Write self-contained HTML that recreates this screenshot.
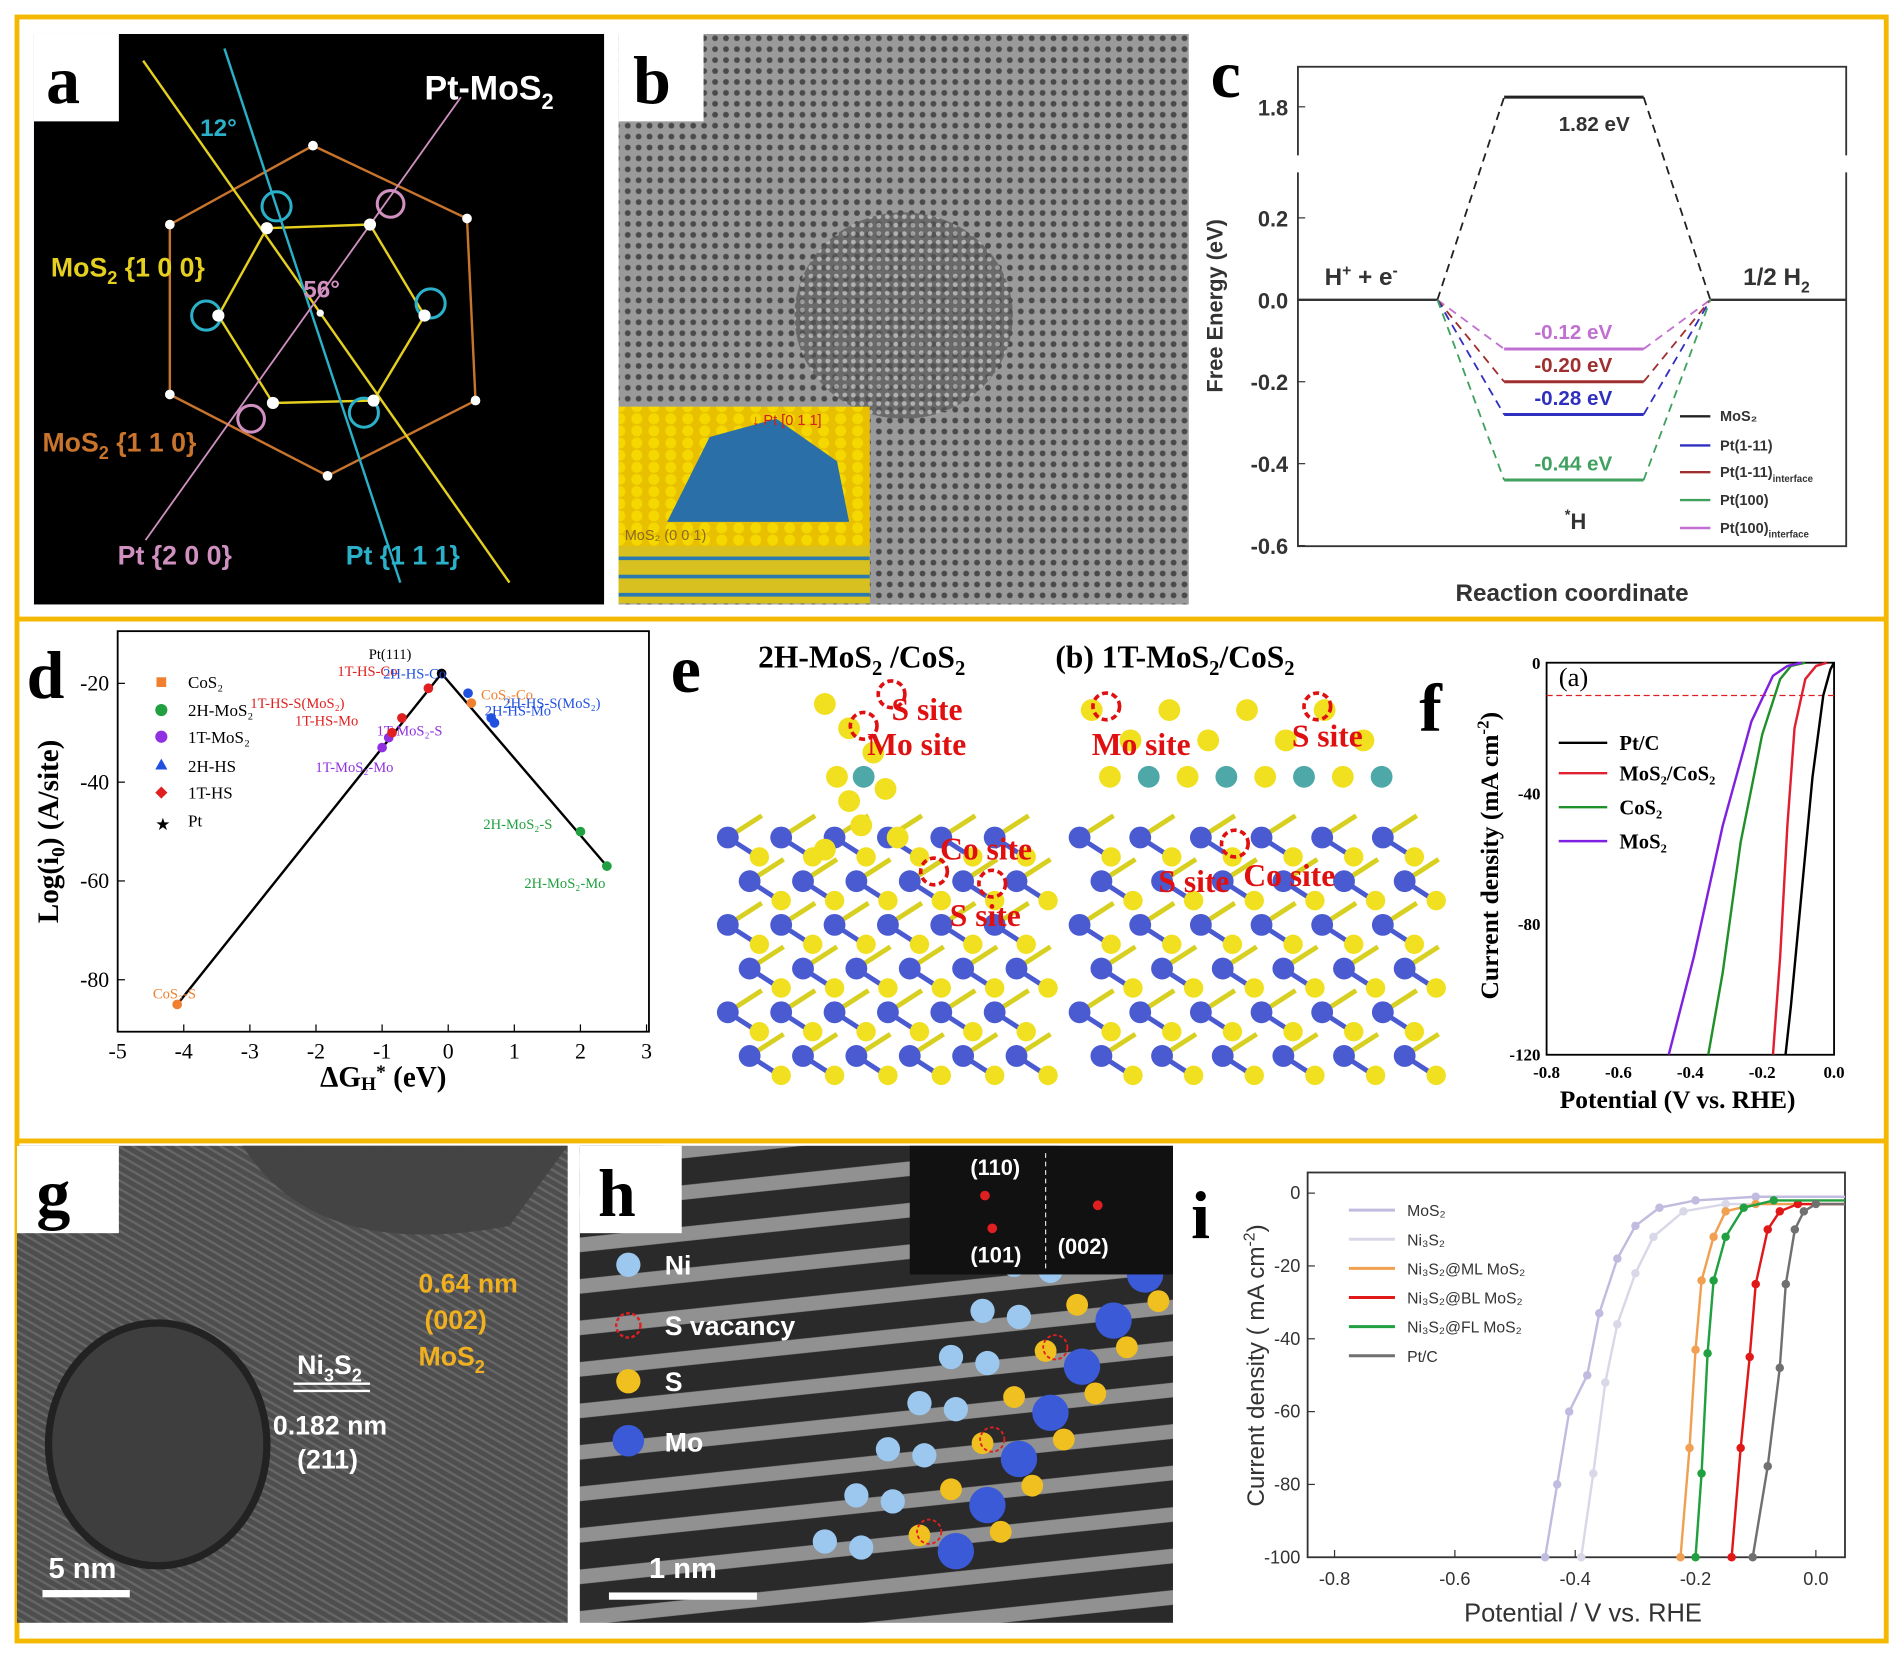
<!DOCTYPE html>
<html><head><meta charset="utf-8"><style>
html,body{margin:0;padding:0;background:#fff;}
svg{display:block;font-family:"Liberation Sans",sans-serif;}
.serif{font-family:"Liberation Serif",serif;}
</style></head><body>
<svg id="fig" width="1902" height="1658" viewBox="0 0 1568 1366" preserveAspectRatio="none">
<defs>
<pattern id="latt" width="9" height="9" patternUnits="userSpaceOnUse"><rect width="9" height="9" fill="#9a9a9a"/><circle cx="4.5" cy="4.5" r="2.4" fill="#4a4a4a"/></pattern>
<pattern id="latt2" width="7" height="7" patternUnits="userSpaceOnUse"><rect width="7" height="7" fill="#555"/><circle cx="3.5" cy="3.5" r="2" fill="#bbb"/></pattern>
<pattern id="stripes" width="40" height="34" patternUnits="userSpaceOnUse" patternTransform="rotate(-6)"><rect width="40" height="34" fill="#2a2a2a"/><rect y="10" width="40" height="12" fill="#bdbdbd" opacity="0.7"/></pattern>
<pattern id="gtex" width="6" height="6" patternUnits="userSpaceOnUse" patternTransform="rotate(30)"><rect width="6" height="6" fill="#4e4e4e"/><rect width="6" height="2" fill="#666"/></pattern>
<pattern id="atoms" width="14" height="10" patternUnits="userSpaceOnUse"><rect width="14" height="10" fill="#e8c000"/><circle cx="7" cy="5" r="4.5" fill="#f5d800"/></pattern>
<clipPath id="hclip"><rect x="478" y="944" width="489" height="393"/></clipPath>
</defs>
<g fill="none" stroke="#f5b800" stroke-width="4">
<rect x="14" y="14" width="1541" height="1338"/>
<line x1="14" y1="510" x2="1555" y2="510"/>
<line x1="14" y1="940" x2="1555" y2="940"/>
</g>

<g>
<rect x="28" y="28" width="470" height="470" fill="#000"/>
<rect x="28" y="28" width="70" height="72" fill="#fff"/>
<text x="38" y="85" font-size="56" font-weight="bold" class="serif">a</text>
<polygon points="258,120 385,180 392,330 270,392 140,325 140,185" fill="none" stroke="#c8742c" stroke-width="2"/>
<polygon points="220,188 305,185 350,260 308,330 225,332 180,260" fill="none" stroke="#e5d020" stroke-width="2"/>
<line x1="118" y1="50" x2="420" y2="480" stroke="#e5d020" stroke-width="2"/>
<line x1="185" y1="40" x2="330" y2="480" stroke="#2ab0c8" stroke-width="2"/>
<line x1="120" y1="445" x2="380" y2="80" stroke="#d090c0" stroke-width="1.5"/>
<g fill="none" stroke="#2ab0c8" stroke-width="2.5"><circle cx="228" cy="170" r="12"/><circle cx="355" cy="250" r="12"/><circle cx="300" cy="340" r="12"/><circle cx="170" cy="260" r="12"/></g>
<g fill="none" stroke="#d090c0" stroke-width="2.5"><circle cx="322" cy="168" r="11"/><circle cx="207" cy="345" r="11"/></g>
<g fill="#fff"><circle cx="258" cy="120" r="4"/><circle cx="385" cy="180" r="4"/><circle cx="392" cy="330" r="4"/><circle cx="270" cy="392" r="4"/><circle cx="140" cy="325" r="4"/><circle cx="140" cy="185" r="4"/><circle cx="220" cy="188" r="5"/><circle cx="305" cy="185" r="5"/><circle cx="350" cy="260" r="5"/><circle cx="308" cy="330" r="5"/><circle cx="225" cy="332" r="5"/><circle cx="180" cy="260" r="5"/><circle cx="264" cy="258" r="3"/></g>
<text x="350" y="82" font-size="28" font-weight="bold" fill="#fff">Pt-MoS<tspan font-size="18" dy="8">2</tspan></text>
<text x="165" y="112" font-size="20" font-weight="bold" fill="#2ab0c8">12°</text>
<text x="250" y="245" font-size="20" font-weight="bold" fill="#d090c0">56°</text>
<text x="42" y="228" font-size="22" font-weight="bold" fill="#e5d020">MoS<tspan font-size="15" dy="6">2</tspan><tspan dy="-6"> {1 0 0}</tspan></text>
<text x="35" y="372" font-size="22" font-weight="bold" fill="#c8742c">MoS<tspan font-size="15" dy="6">2</tspan><tspan dy="-6"> {1 1 0}</tspan></text>
<text x="97" y="465" font-size="22" font-weight="bold" fill="#d090c0">Pt {2 0 0}</text>
<text x="285" y="465" font-size="22" font-weight="bold" fill="#2ab0c8">Pt {1 1 1}</text>
</g>

<g>
<rect x="510" y="28" width="470" height="470" fill="url(#latt)"/>
<ellipse cx="745" cy="260" rx="90" ry="85" fill="url(#latt2)" opacity="0.7"/>
<rect x="510" y="28" width="70" height="72" fill="#fff"/>
<text x="522" y="85" font-size="56" font-weight="bold" class="serif">b</text>
<rect x="510" y="335" width="207" height="162" fill="url(#atoms)"/>
<rect x="510" y="450" width="207" height="47" fill="#d8c020"/>
<g stroke="#2a7ab0" stroke-width="3"><line x1="510" y1="460" x2="717" y2="460"/><line x1="510" y1="475" x2="717" y2="475"/><line x1="510" y1="490" x2="717" y2="490"/></g>
<polygon points="550,430 585,360 640,345 690,380 700,430" fill="#2a6fa8"/>
<text x="620" y="350" font-size="12" fill="#d02020">↓ Pt [0 1 1]</text>
<text x="515" y="445" font-size="12" fill="#8a6a20">MoS₂ (0 0 1)</text>
</g>

<g id="pc">
<rect x="995" y="28" width="70" height="70" fill="#fff"/>
<text x="998" y="80" font-size="56" font-weight="bold" class="serif">c</text>
<rect x="1070" y="55" width="452" height="395" fill="none" stroke="#333" stroke-width="1.5"/>
<rect x="1063" y="128" width="20" height="14" fill="#fff"/><rect x="1512" y="128" width="20" height="14" fill="#fff"/>
<text x="1285" y="108" font-size="17" font-weight="bold" fill="#333">1.82 eV</text>
<text x="1092" y="235" font-size="20" font-weight="bold" fill="#333">H<tspan font-size="13" dy="-8">+</tspan><tspan dy="8"> + e</tspan><tspan font-size="13" dy="-8">-</tspan></text>
<text x="1437" y="235" font-size="20" font-weight="bold" fill="#333">1/2 H<tspan font-size="13" dy="6">2</tspan></text>
<text x="1290" y="436" font-size="18" font-weight="bold" fill="#333"><tspan font-size="12" dy="-8">*</tspan><tspan dy="8">H</tspan></text>
<text x="1296" y="495" font-size="20" font-weight="bold" fill="#333" text-anchor="middle">Reaction coordinate</text>
<text transform="translate(1008,252) rotate(-90)" font-size="18" font-weight="bold" fill="#333" text-anchor="middle">Free Energy (eV)</text>
<g id="pc-ticks"></g><g id="pc-marks"></g>
<g font-size="12" font-weight="bold" fill="#333">
<line x1="1385" y1="343" x2="1410" y2="343" stroke="#222" stroke-width="2"/><text x="1418" y="347">MoS₂</text>
<line x1="1385" y1="367" x2="1410" y2="367" stroke="#3030c0" stroke-width="2"/><text x="1418" y="371">Pt(1-11)</text>
<line x1="1385" y1="389" x2="1410" y2="389" stroke="#a03030" stroke-width="2"/><text x="1418" y="393">Pt(1-11)<tspan font-size="8" dy="4">interface</tspan></text>
<line x1="1385" y1="412" x2="1410" y2="412" stroke="#40a060" stroke-width="2"/><text x="1418" y="416">Pt(100)</text>
<line x1="1385" y1="435" x2="1410" y2="435" stroke="#c070d0" stroke-width="2"/><text x="1418" y="439">Pt(100)<tspan font-size="8" dy="4">interface</tspan></text>
</g>
</g>

<g id="pd">
<text x="22" y="575" font-size="56" font-weight="bold" class="serif">d</text>
<rect x="97" y="520" width="438" height="330" fill="none" stroke="#000" stroke-width="1.5"/>
<g id="pd-ticks" class="serif"></g><g id="pd-marks"></g>
<text x="316" y="895" font-size="24" font-weight="bold" class="serif" text-anchor="middle">ΔG<tspan font-size="16" dy="3">H</tspan><tspan font-size="16" dy="-10">*</tspan><tspan dy="7"> (eV)</tspan></text>
<text transform="translate(48,685) rotate(-90)" font-size="24" font-weight="bold" class="serif" text-anchor="middle">Log(i<tspan font-size="16" dy="5">0</tspan><tspan dy="-5">) (A/site)</tspan></text>
<g class="serif" font-size="14">
<rect x="129" y="558" width="8" height="8" fill="#f08030"/><text x="155" y="567">CoS₂</text>
<circle cx="133" cy="585" r="5" fill="#20a040"/><text x="155" y="590">2H-MoS₂</text>
<circle cx="133" cy="607" r="5" fill="#9030e0"/><text x="155" y="612">1T-MoS₂</text>
<polygon points="133,625 138,634 128,634" fill="#2050e0"/><text x="155" y="636">2H-HS</text>
<polygon points="133,648 138,653 133,658 128,653" fill="#e02020"/><text x="155" y="658">1T-HS</text>
<text x="128" y="684" font-size="14">★</text><text x="155" y="681">Pt</text>
</g>
</g>

<g>
<text x="553" y="570" font-size="56" font-weight="bold" class="serif">e</text>
<text x="625" y="550" font-size="26" font-weight="bold" class="serif">2H-MoS<tspan font-size="17" dy="6">2</tspan><tspan dy="-6"> /CoS</tspan><tspan font-size="17" dy="6">2</tspan></text>
<text x="870" y="550" font-size="26" font-weight="bold" class="serif">(b)  1T-MoS<tspan font-size="17" dy="6">2</tspan><tspan dy="-6">/CoS</tspan><tspan font-size="17" dy="6">2</tspan></text>
<g id="pe-atoms"></g>
<g font-size="26" font-weight="bold" class="serif" fill="#e01010">
<text x="735" y="593">S site</text><text x="715" y="622">Mo site</text>
<text x="775" y="708">Co site</text><text x="783" y="763">S site</text>
<text x="900" y="622">Mo site</text><text x="1065" y="615">S site</text>
<text x="955" y="735">S site</text><text x="1025" y="730">Co site</text>
</g>
</g>

<g id="pf">
<rect x="1275" y="546" width="237" height="323" fill="none" stroke="#000" stroke-width="1.5"/>
<text x="1170" y="602" font-size="56" font-weight="bold" class="serif">f</text>
<text x="1285" y="565" font-size="22" class="serif">(a)</text>
<line x1="1275" y1="573" x2="1512" y2="573" stroke="#e02020" stroke-dasharray="5,3" stroke-width="1"/>
<g id="pf-ticks" class="serif"></g><g id="pf-marks"></g>
<text x="1383" y="913" font-size="21" font-weight="bold" class="serif" text-anchor="middle">Potential (V vs. RHE)</text>
<text transform="translate(1235,705) rotate(-90)" font-size="21" font-weight="bold" class="serif" text-anchor="middle">Current density (mA cm<tspan font-size="14" dy="-8">-2</tspan><tspan dy="8">)</tspan></text>
<g class="serif" font-size="17" font-weight="bold">
<line x1="1285" y1="612" x2="1325" y2="612" stroke="#000" stroke-width="2"/><text x="1335" y="618">Pt/C</text>
<line x1="1285" y1="637" x2="1325" y2="637" stroke="#e02030" stroke-width="2"/><text x="1335" y="643">MoS₂/CoS₂</text>
<line x1="1285" y1="665" x2="1325" y2="665" stroke="#20902a" stroke-width="2"/><text x="1335" y="671">CoS₂</text>
<line x1="1285" y1="693" x2="1325" y2="693" stroke="#8020e0" stroke-width="2"/><text x="1335" y="699">MoS₂</text>
</g>
</g>

<g>
<rect x="14" y="944" width="454" height="393" fill="url(#gtex)"/>
<ellipse cx="130" cy="1190" rx="90" ry="100" fill="#3e3e3e" stroke="#222" stroke-width="6"/>
<path d="M200,944 Q260,1040 420,1010 L468,944 Z" fill="#444"/>
<rect x="14" y="944" width="84" height="72" fill="#fff"/>
<text x="30" y="1002" font-size="56" font-weight="bold" class="serif">g</text>
<text x="245" y="1132" font-size="22" font-weight="bold" fill="#fff">Ni<tspan font-size="15" dy="6">3</tspan><tspan dy="-6">S</tspan><tspan font-size="15" dy="6">2</tspan></text>
<line x1="242" y1="1140" x2="305" y2="1140" stroke="#fff" stroke-width="2"/>
<line x1="242" y1="1146" x2="305" y2="1146" stroke="#fff" stroke-width="2"/>
<text x="225" y="1182" font-size="22" font-weight="bold" fill="#fff">0.182 nm</text>
<text x="245" y="1210" font-size="22" font-weight="bold" fill="#fff">(211)</text>
<text x="345" y="1065" font-size="22" font-weight="bold" fill="#f0b020">0.64 nm</text>
<text x="350" y="1095" font-size="22" font-weight="bold" fill="#f0b020">(002)</text>
<text x="345" y="1125" font-size="22" font-weight="bold" fill="#f0b020">MoS<tspan font-size="15" dy="6">2</tspan></text>
<text x="40" y="1300" font-size="24" font-weight="bold" fill="#fff">5 nm</text>
<rect x="35" y="1310" width="72" height="6" fill="#fff"/>
</g>

<g>
<rect x="478" y="944" width="489" height="393" fill="url(#stripes)"/>
<g id="ph-atoms" clip-path="url(#hclip)"></g>
<rect x="478" y="944" width="84" height="72" fill="#fff"/>
<text x="493" y="1002" font-size="56" font-weight="bold" class="serif">h</text>
<rect x="750" y="944" width="217" height="106" fill="#111"/>
<line x1="862" y1="950" x2="862" y2="1048" stroke="#ddd" stroke-dasharray="4,3"/>
<circle cx="812" cy="985" r="4" fill="#e02020"/><circle cx="818" cy="1012" r="4" fill="#e02020"/><circle cx="905" cy="993" r="4" fill="#e02020"/>
<text x="800" y="968" font-size="18" font-weight="bold" fill="#fff">(110)</text>
<text x="800" y="1040" font-size="18" font-weight="bold" fill="#fff">(101)</text>
<text x="872" y="1033" font-size="18" font-weight="bold" fill="#fff">(002)</text>
<circle cx="518" cy="1042" r="10" fill="#9cc8f0"/><text x="548" y="1050" font-size="22" font-weight="bold" fill="#fff">Ni</text>
<circle cx="518" cy="1092" r="10" fill="none" stroke="#e02020" stroke-dasharray="3,2" stroke-width="2"/><text x="548" y="1100" font-size="22" font-weight="bold" fill="#fff">S vacancy</text>
<circle cx="518" cy="1138" r="10" fill="#f0c020"/><text x="548" y="1146" font-size="22" font-weight="bold" fill="#fff">S</text>
<circle cx="518" cy="1187" r="13" fill="#3a5ad8"/><text x="548" y="1196" font-size="22" font-weight="bold" fill="#fff">Mo</text>
<text x="535" y="1300" font-size="24" font-weight="bold" fill="#fff">1 nm</text>
<rect x="502" y="1312" width="122" height="6" fill="#fff"/>
</g>

<g id="pi">
<text x="982" y="1020" font-size="56" font-weight="bold" class="serif">i</text>
<rect x="1078" y="966" width="443" height="317" fill="none" stroke="#333" stroke-width="1.5"/>
<g id="pi-ticks"></g><g id="pi-marks"></g>
<text x="1305" y="1336" font-size="21" fill="#333" text-anchor="middle">Potential / V vs. RHE</text>
<text transform="translate(1042,1125) rotate(-90)" font-size="20" fill="#333" text-anchor="middle">Current density ( mA cm<tspan font-size="13" dy="-8">-2</tspan><tspan dy="8">)</tspan></text>
<g id="pi-legend" font-size="13" fill="#333"></g>
</g>

<script>
var NS="http://www.w3.org/2000/svg";
function mk(parent,tag,attrs,txt){var e=document.createElementNS(NS,tag);for(var k in attrs)e.setAttribute(k,attrs[k]);if(txt!==undefined)e.textContent=txt;document.getElementById(parent).appendChild(e);return e;}

var cLevelNames=["MoS2","Pt(100)interface","Pt(1-11)interface","Pt(1-11)","Pt(100)"];
var cLevelValues=[1.82,-0.12,-0.20,-0.28,-0.44];
var cLevelLabels=["","-0.12 eV","-0.20 eV","-0.28 eV","-0.44 eV"];
var cLevelColors=["#222","#c070d0","#a03030","#3030c0","#40a060"];
var cTickValues=[1.8,0.2,0.0,-0.2,-0.4,-0.6];
var cTickLabels=["1.8","0.2","0.0","-0.2","-0.4","-0.6"];
function cY(v){return v>1?88-(v-1.8)*400:247-v*337.5;}
cTickValues.forEach(function(v,i){
 var t=mk("pc-ticks","line",{x1:1070,x2:1076,y1:cY(v),y2:cY(v),stroke:"#333"});
 
 
 var l=mk("pc-ticks","text",{x:1062,y:cY(v)+7,"font-size":18,"font-weight":"bold","text-anchor":"end",fill:"#333"},cTickLabels[i]);
 
 
});
mk("pc-marks","line",{x1:1070,x2:1185,y1:cY(0),y2:cY(0),stroke:"#333","stroke-width":2});
mk("pc-marks","line",{x1:1410,x2:1522,y1:cY(0),y2:cY(0),stroke:"#333","stroke-width":2});
cLevelValues.forEach(function(v,i){
 var y=cY(v),c=cLevelColors[i];
 var g=mk("pc-marks","g",{});
 
 
 [["line",{x1:1185,y1:cY(0),x2:1240,y2:y,stroke:c,"stroke-dasharray":"7,5","stroke-width":1.5}],
  ["line",{x1:1240,y1:y,x2:1355,y2:y,stroke:c,"stroke-width":2.5}],
  ["line",{x1:1355,y1:y,x2:1410,y2:cY(0),stroke:c,"stroke-dasharray":"7,5","stroke-width":1.5}]].forEach(function(s){var e=document.createElementNS(NS,s[0]);for(var k in s[1])e.setAttribute(k,s[1][k]);g.appendChild(e);});
 if(cLevelLabels[i]){var t=document.createElementNS(NS,"text");t.setAttribute("x",1297);t.setAttribute("y",y-8);t.setAttribute("font-size",17);t.setAttribute("font-weight","bold");t.setAttribute("text-anchor","middle");t.setAttribute("fill",c);t.textContent=cLevelLabels[i];g.appendChild(t);}
});

var dXTicks=[-5,-4,-3,-2,-1,0,1,2,3];
var dYTicks=[-20,-40,-60,-80];
var dLine=[[-4.1,-85],[-0.1,-18],[2.4,-57]];
var dPointNames=["CoS2-S","1T-MoS2-Mo","1T-MoS2-S","1T-HS-Mo","1T-HS-S(MoS2)","1T-HS-Co","Pt(111)","2H-HS-Co","CoS2-Co","2H-HS-Mo","2H-HS-S(MoS2)","2H-MoS2-S","2H-MoS2-Mo"];
var dPointX=[-4.1,-1.0,-0.9,-0.85,-0.7,-0.3,-0.1,0.3,0.35,0.7,0.65,2.0,2.4];
var dPointY=[-85,-33,-31,-30,-27,-21,-18,-22,-24,-28,-27,-50,-57];
var dPointColors=["#f08030","#9030e0","#9030e0","#e02020","#e02020","#e02020","#000","#2050e0","#f08030","#2050e0","#2050e0","#20a040","#20a040"];
function dX(v){return 97+(v+5)*54.5;}
function dY(v){return 563-(v+20)*4.07;}
dXTicks.forEach(function(v){
 var t=mk("pd-ticks","text",{x:dX(v),y:872,"font-size":18,"text-anchor":"middle"},String(v));
 
 
 mk("pd-ticks","line",{x1:dX(v),x2:dX(v),y1:850,y2:844,stroke:"#000"});
});
dYTicks.forEach(function(v){
 var t=mk("pd-ticks","text",{x:90,y:dY(v)+6,"font-size":18,"text-anchor":"end"},String(v));
 
 
 mk("pd-ticks","line",{x1:97,x2:103,y1:dY(v),y2:dY(v),stroke:"#000"});
});
var dl=mk("pd-marks","polyline",{points:dLine.map(function(p){return dX(p[0])+","+dY(p[1]);}).join(" "),fill:"none",stroke:"#000","stroke-width":2});


var dLabelOff=[[-20,-5],[-55,20],[-10,-2],[-80,-6],[-125,-8],[-75,-10],[-60,-12],[-70,-12],[8,-3],[-8,-6],[10,-8],[-80,-2],[-68,18]];
dPointX.forEach(function(v,i){
 var p=mk("pd-marks","circle",{cx:dX(v),cy:dY(dPointY[i]),r:4,fill:dPointColors[i]});
 
 
 var t=mk("pd-marks","text",{x:dX(v)+dLabelOff[i][0],y:dY(dPointY[i])+dLabelOff[i][1],"font-size":12,fill:dPointColors[i],"font-family":"Liberation Serif, serif"},dPointNames[i].replace(/S2/g,"S₂"));
 
 
});

(function(){
 function grid(x0,x1){
  for(var r=0;r<6;r++){for(var c=0;c<6;c++){
   var x=x0+c*(x1-x0)/5+(r%2)*18,y=690+r*36;
   mk("pe-atoms","line",{x1:x,y1:y,x2:x+28,y2:y+18,stroke:"#4a5ad0","stroke-width":4});
   mk("pe-atoms","line",{x1:x,y1:y,x2:x+28,y2:y-18,stroke:"#d8d020","stroke-width":4});
   mk("pe-atoms","circle",{cx:x,cy:y,r:9,fill:"#4a5ad0"});
   mk("pe-atoms","circle",{cx:x+26,cy:y+16,r:8,fill:"#f0e020"});
  }}
 }
 grid(600,820);grid(890,1140);
 var top=[[680,580],[700,600],[720,620],[690,640],[730,650],[710,680],[680,700],[740,690],[700,660]];
 top.forEach(function(p){mk("pe-atoms","circle",{cx:p[0],cy:p[1],r:9,fill:"#f0e020"});});
 mk("pe-atoms","circle",{cx:712,cy:640,r:9,fill:"#4ea8a8"});
 for(var c=0;c<8;c++){mk("pe-atoms","circle",{cx:900+c*32,cy:585+(c%2)*25,r:9,fill:"#f0e020"});mk("pe-atoms","circle",{cx:915+c*32,cy:640,r:9,fill:c%2?"#4ea8a8":"#f0e020"});}
 [[735,572],[712,598],[770,718],[818,728],[912,582],[1086,582],[1018,695]].forEach(function(p){mk("pe-atoms","circle",{cx:p[0],cy:p[1],r:11,fill:"none",stroke:"#e01010","stroke-width":3,"stroke-dasharray":"5,3"});});
})();

(function(){
 for(var r=0;r<7;r++){
  var bx=680+r*26,by=1270-r*38;
  mk("ph-atoms","circle",{cx:bx,cy:by,r:10,fill:"#9cc8f0"});
  mk("ph-atoms","circle",{cx:bx+30,cy:by+5,r:10,fill:"#9cc8f0"});
  mk("ph-atoms","circle",{cx:bx+78,cy:by-5,r:9,fill:"#f0c020"});
  mk("ph-atoms","circle",{cx:bx+108,cy:by+8,r:15,fill:"#3a5ad8"});
  mk("ph-atoms","circle",{cx:bx+145,cy:by-8,r:9,fill:"#f0c020"});
  if(r%2)mk("ph-atoms","circle",{cx:bx+60,cy:by+30,r:10,fill:"none",stroke:"#e02020","stroke-width":1.5,"stroke-dasharray":"3,2"});
 }
})();

var fXTicks=[-0.8,-0.6,-0.4,-0.2,0.0];
var fYTicks=[0,-40,-80,-120];
var fNames=["Pt/C","MoS2/CoS2","CoS2","MoS2"];
var fColors=["#000","#e02030","#20902a","#8020e0"];
var fPotential=[
 [0.0,-0.01,-0.03,-0.06,-0.09,-0.12,-0.135],
 [-0.02,-0.05,-0.08,-0.11,-0.13,-0.15,-0.17],
 [-0.08,-0.12,-0.15,-0.2,-0.26,-0.31,-0.35],
 [-0.09,-0.13,-0.17,-0.23,-0.31,-0.39,-0.46]];
var fCurrent=[
 [0,-2,-10,-35,-70,-105,-120],
 [0,-1,-5,-20,-50,-90,-120],
 [0,-1,-5,-22,-55,-95,-120],
 [0,-1,-4,-18,-50,-90,-120]];
function fX(v){return 1512+v*296.25;}
function fY(v){return 546-v*2.69;}
fXTicks.forEach(function(v){
 var t=mk("pf-ticks","text",{x:fX(v),y:888,"font-size":14,"font-weight":"bold","text-anchor":"middle"},v.toFixed(1));
 
 
});
fYTicks.forEach(function(v){
 var t=mk("pf-ticks","text",{x:1270,y:fY(v)+5,"font-size":14,"font-weight":"bold","text-anchor":"end"},String(v));
 
 
});
fPotential.forEach(function(xs,i){
 var p=mk("pf-marks","polyline",{points:xs.map(function(x,j){return fX(x)+","+fY(fCurrent[i][j]);}).join(" "),fill:"none",stroke:fColors[i],"stroke-width":2});
 
 
});

var iXTicks=[-0.8,-0.6,-0.4,-0.2,0.0];
var iYTicks=[0,-20,-40,-60,-80,-100];
var iYTickLabels=["0","-20","-40","-60","-80","-100"];
var iNames=["MoS2","Ni3S2","Ni3S2@ML MoS2","Ni3S2@BL MoS2","Ni3S2@FL MoS2","Pt/C"];
var iColors=["#c0bce0","#d8d8e8","#f0a050","#e01818","#20a040","#707070"];
var iPotential=[
 [0.05,-0.1,-0.2,-0.26,-0.3,-0.33,-0.36,-0.38,-0.41,-0.43,-0.45],
 [0.05,-0.15,-0.22,-0.27,-0.3,-0.33,-0.35,-0.37,-0.39],
 [0.05,-0.1,-0.15,-0.17,-0.19,-0.2,-0.21,-0.225],
 [0.05,-0.03,-0.06,-0.08,-0.1,-0.11,-0.125,-0.14],
 [0.05,-0.07,-0.12,-0.15,-0.17,-0.18,-0.19,-0.2],
 [0.05,0.0,-0.02,-0.035,-0.05,-0.06,-0.08,-0.105]];
var iCurrent=[
 [-1,-1,-2,-4,-9,-18,-33,-50,-60,-80,-100],
 [-3,-3,-5,-12,-22,-36,-52,-77,-100],
 [-3,-3,-5,-12,-24,-43,-70,-100],
 [-3,-3,-5,-10,-25,-45,-70,-100],
 [-2,-2,-4,-12,-24,-44,-77,-100],
 [-3,-3,-5,-10,-25,-48,-75,-100]];
function iX(v){return 1497+v*496;}
function iY(v){return 983-v*3.0;}
iXTicks.forEach(function(v){
 var t=mk("pi-ticks","text",{x:iX(v),y:1306,"font-size":15,"text-anchor":"middle",fill:"#333"},v.toFixed(1));
 
 
 mk("pi-ticks","line",{x1:iX(v),x2:iX(v),y1:1283,y2:1277,stroke:"#333"});
});
iYTicks.forEach(function(v,i){
 var t=mk("pi-ticks","text",{x:1072,y:iY(v)+5,"font-size":15,"text-anchor":"end",fill:"#333"},iYTickLabels[i]);
 
 
 mk("pi-ticks","line",{x1:1078,x2:1084,y1:iY(v),y2:iY(v),stroke:"#333"});
});
iPotential.forEach(function(xs,i){
 var g=mk("pi-marks","g",{});
 
 
 var pl=document.createElementNS(NS,"polyline");
 pl.setAttribute("points",xs.map(function(x,j){return Math.min(iX(x),1521)+","+iY(iCurrent[i][j]);}).join(" "));
 pl.setAttribute("fill","none");pl.setAttribute("stroke",iColors[i]);pl.setAttribute("stroke-width",2);
 g.appendChild(pl);
 xs.forEach(function(x,j){if(iX(x)>1521)return;var c=document.createElementNS(NS,"circle");c.setAttribute("cx",iX(x));c.setAttribute("cy",iY(iCurrent[i][j]));c.setAttribute("r",3.5);c.setAttribute("fill",iColors[i]);g.appendChild(c);});
 var ly=997+i*24;
 var ll=mk("pi-legend","line",{x1:1112,x2:1150,y1:ly,y2:ly,stroke:iColors[i],"stroke-width":2.5});
 
 
 var lt=mk("pi-legend","text",{x:1160,y:ly+5},iNames[i].replace("Ni3S2","Ni₃S₂").replace("MoS2","MoS₂"));
 
 
});
</script>
</svg>
</body></html>
